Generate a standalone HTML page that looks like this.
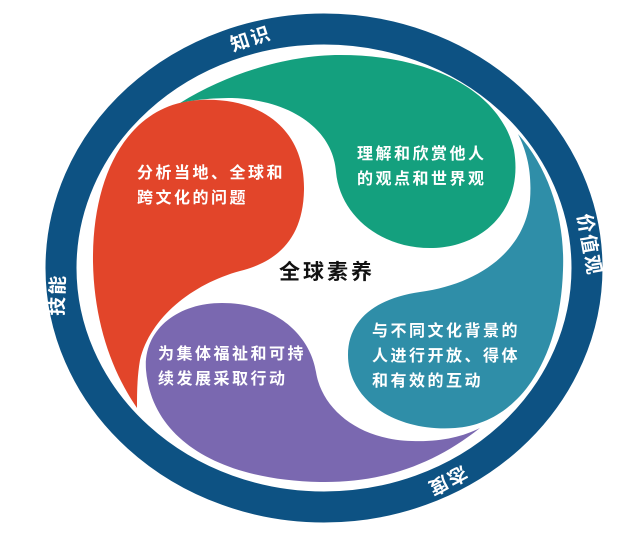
<!DOCTYPE html>
<html><head><meta charset="utf-8"><style>
html,body{margin:0;padding:0;background:#fff;}
svg{display:block;}
.t{font-family:"Liberation Sans","Noto Sans CJK SC",sans-serif;font-weight:bold;fill:#fff;font-size:16px;letter-spacing:2.5px;}
.r{font-family:"Liberation Sans","Noto Sans CJK SC",sans-serif;font-weight:bold;fill:#fff;font-size:19px;letter-spacing:2px;}
</style></head><body>
<svg width="640" height="540" viewBox="0 0 640 540" xmlns="http://www.w3.org/2000/svg">
<rect width="640" height="540" fill="#fff"/>
<ellipse cx="324" cy="268" rx="263" ry="239" fill="none" stroke="#0d5283" stroke-width="31"/>
<path fill="#e2452a" d="M137,408 C112,372 94,322 93,262 C92,172 130,103 200,100 C262,97 305,130 304,190 C303,240 276,262 240,271 C192,284 150,318 140,360 C137,378 137,393 137,408 Z"/>
<path fill="#14a07e" d="M180,103 C230,72 290,55 340,55 C430,55 500,90 514,150 C524,210 482,248 430,248 C380,248 340,215 336,172 C333,130 292,100 232,98 C212,98 192,100 180,103 Z"/>
<path fill="#2f8ea8" d="M518,134 C550,170 565,220 563,270 C560,365 515,424 455,428 C395,432 348,400 348,355 C348,318 378,298 420,292 C480,284 525,250 530,200 C532,172 527,152 518,134 Z"/>
<path fill="#7a68b0" d="M480,428 C432,466 380,483 320,482 C220,480 152,440 146,370 C143,330 177,303 222,303 C276,303 310,335 316,372 C322,410 360,440 412,441 C440,442 462,437 480,428 Z"/>
<text class="t" x="137" y="178">分析当地、全球和</text>
<text class="t" x="137" y="203">跨文化的问题</text>
<text class="t" x="357" y="159">理解和欣赏他人</text>
<text class="t" x="357" y="184">的观点和世界观</text>
<text class="t" x="158" y="359">为集体福祉和可持</text>
<text class="t" x="158" y="384">续发展采取行动</text>
<text class="t" x="372" y="336">与不同文化背景的</text>
<text class="t" x="372" y="361">人进行开放、得体</text>
<text class="t" x="372" y="386">和有效的互动</text>
<text x="279" y="279" style="font-family:'Liberation Sans','Noto Sans CJK SC',sans-serif;font-weight:bold;font-size:21px;letter-spacing:3px;fill:#111">全球素养</text>
<text class="r" transform="translate(253,45) rotate(-18)" text-anchor="middle">知识</text>
<text class="r" transform="translate(64,295) rotate(-88)" text-anchor="middle">技能</text>
<text class="r" transform="translate(583,246) rotate(80)" text-anchor="middle">价值观</text>
<text class="r" transform="translate(444,475) rotate(152)" text-anchor="middle">态度</text>
</svg>
</body></html>
